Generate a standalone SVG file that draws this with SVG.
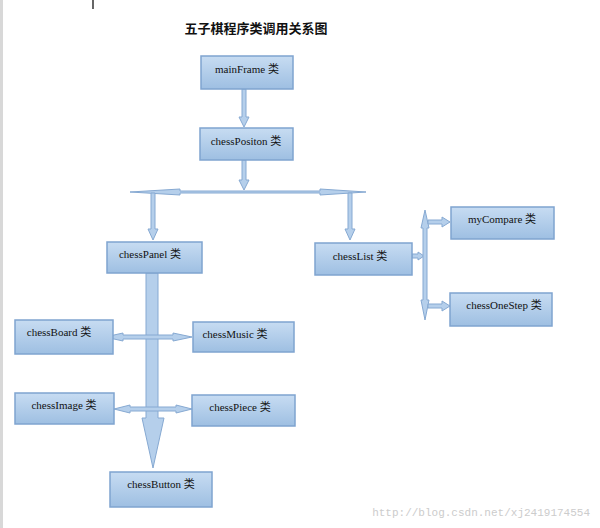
<svg xmlns="http://www.w3.org/2000/svg" width="600" height="528" viewBox="0 0 600 528">
<defs>
<linearGradient id="g" x1="0" y1="0" x2="0" y2="1"><stop offset="0" stop-color="#c7dcf2"/><stop offset="1" stop-color="#9ebfe2"/></linearGradient>
<linearGradient id="ga" x1="0" y1="0" x2="1" y2="0"><stop offset="0" stop-color="#a9c6e6"/><stop offset="0.5" stop-color="#c9ddf2"/><stop offset="1" stop-color="#a9c6e6"/></linearGradient>
</defs>
<style>
.b rect{fill:url(#g);stroke:#7fa4cf;stroke-width:1.5}
.b text{font-family:"Liberation Serif","Noto Sans CJK SC",serif;font-size:11px;fill:#111}
.a{fill:#b5cfeb;stroke:#86a9d2;stroke-width:1}
</style>
<rect width="600" height="528" fill="#fff"/>
<rect x="0" y="0" width="3" height="528" fill="#d8d8d8"/>
<line x1="93" y1="0" x2="93" y2="9" stroke="#000" stroke-width="1.2"/>
<text x="256" y="33" text-anchor="middle" font-family="'Liberation Serif','Noto Sans CJK SC',serif" font-size="13" font-weight="bold" fill="#111">五子棋程序类调用关系图</text>
<text x="590" y="516" text-anchor="end" font-family="'Liberation Mono',monospace" font-size="11" fill="#ccc">http://blog.csdn.net/xj2419174554</text>
<g id="connectors">
<path class="a" d="M242,89 h4 v28 h3 l-5,10 l-5,-10 h3 z"/>
<path class="a" d="M242,160 h4 v20 h3 l-5,10 l-5,-10 h3 z"/>
<path class="a" d="M130,192 l50,-3 v2 h140 v-2 l46,3 l-46,3 v-2 h-140 v2 z"/>
<path class="a" d="M151,193 h4 v36 h3 l-5,11 l-5,-11 h3 z"/>
<path class="a" d="M348,193 h4 v36 h3 l-5,11 l-5,-11 h3 z"/>
<path class="a" d="M146,273 h12 v145 h6 l-11,50 l-11,-50 h4 z" fill="url(#ga)"/>
<path class="a" d="M105,337 l18,-4 v2 h50 v-2 l19,4 l-19,4 v-2 h-50 v2 z"/>
<path class="a" d="M114,409 l16,-4 v2 h46 v-2 l16,4 l-16,4 v-2 h-46 v2 z"/>
<path class="a" d="M412,254 h6 v-2 l6,4 l-6,4 v-2 h-6 z"/>
<path class="a" d="M425,210 l4,18 h-2 v72 h2 l-4,20 l-4,-20 h2 v-72 h-2 z"/>
<path class="a" d="M428,220 h14 v-3 l8,5 l-8,5 v-3 h-14 z"/>
<path class="a" d="M428,304 h14 v-3 l8,5 l-8,5 v-3 h-14 z"/>
</g>
<g id="mainFrame" class="b"><rect x="201" y="56" width="92" height="33"/><text x="247" y="73" text-anchor="middle">mainFrame 类</text></g>
<g id="chessPositon" class="b"><rect x="200" y="128" width="93" height="32"/><text x="246" y="145" text-anchor="middle">chessPositon 类</text></g>
<g id="chessPanel" class="b"><rect x="107" y="242" width="95" height="31"/><text x="150" y="258" text-anchor="middle">chessPanel 类</text></g>
<g id="chessList" class="b"><rect x="315" y="243" width="97" height="32"/><text x="360" y="260" text-anchor="middle">chessList 类</text></g>
<g id="myCompare" class="b"><rect x="451" y="207" width="103" height="32"/><text x="502" y="223" text-anchor="middle">myCompare 类</text></g>
<g id="chessOneStep" class="b"><rect x="450" y="293" width="102" height="33"/><text x="504" y="309" text-anchor="middle">chessOneStep 类</text></g>
<g id="chessBoard" class="b"><rect x="15" y="320" width="98" height="34"/><text x="59" y="336" text-anchor="middle">chessBoard 类</text></g>
<g id="chessMusic" class="b"><rect x="193" y="322" width="101" height="30"/><text x="235" y="338" text-anchor="middle">chessMusic 类</text></g>
<g id="chessImage" class="b"><rect x="15" y="393" width="99" height="31"/><text x="64" y="409" text-anchor="middle">chessImage 类</text></g>
<g id="chessPiece" class="b"><rect x="192" y="395" width="103" height="31"/><text x="240" y="411" text-anchor="middle">chessPiece 类</text></g>
<g id="chessButton" class="b"><rect x="110" y="472" width="102" height="35"/><text x="161" y="488" text-anchor="middle">chessButton 类</text></g>
</svg>
